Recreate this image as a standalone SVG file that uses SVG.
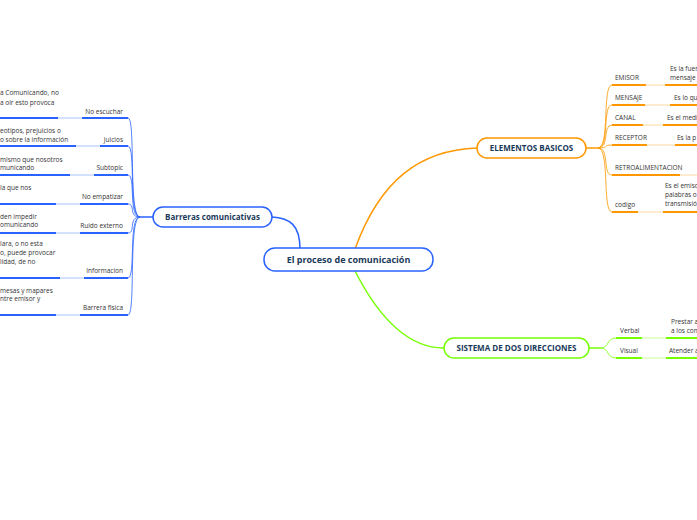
<svg xmlns="http://www.w3.org/2000/svg" width="697" height="520" viewBox="0 0 697 520">
<style>
text{font-family:"Open Sans","Noto Sans",sans-serif;font-size:6.5px;fill:#333}
.t{font-size:8px;font-weight:bold;fill:#1a3a5a}
.b{stroke:#2962ff;fill:none}
.o{stroke:#ff9800;fill:none}
.g{stroke:#76ff03;fill:none}
.lb{stroke:#a8c4ff;fill:none;stroke-width:1}
.lo{stroke:#ffd7a0;fill:none;stroke-width:1}
.lg{stroke:#c8ff9a;fill:none;stroke-width:1}
</style>
<rect width="697" height="520" fill="#fff"/>
<g id="connectors">
<path class="b" stroke-width="1.5" d="M300 249 C300 225 290 218 272 217"/>
<path class="o" stroke-width="1.5" d="M355 249 C380 180 420 150 477 148"/>
<path class="g" stroke-width="1.5" d="M355 271 C380 320 410 348 444 348"/>
<path class="b" stroke-width="1.5" d="M153 217 H140"/>
<g class="b" stroke-width="0.8">
<path d="M140 217 C128 217 136 118 128 118"/><path d="M140 217 C128 217 136 146 128 146"/><path d="M140 217 C128 217 136 175 128 175"/><path d="M140 217 C128 217 136 204 128 204"/><path d="M140 217 C128 217 136 233 128 233"/><path d="M140 217 C128 217 136 278 128 278"/><path d="M140 217 C128 217 136 315 128 315"/>
</g>
<g class="b" stroke-width="2">
<path d="M82 118H128M0 118H58"/><path d="M100 146H128M0 146H76"/><path d="M94 175H128M0 175H70"/><path d="M80 204H128M0 204H56"/><path d="M80 233H128M0 233H56"/><path d="M84 278H128M0 278H60"/><path d="M80 315H128M0 315H56"/>
</g>
<g class="lb"><path d="M58 118H82M76 146H100M70 175H94M56 204H80M56 233H80M60 278H84M56 315H80"/></g>
<path class="o" stroke-width="1.5" d="M586 148H598"/>
<g class="o" stroke-width="0.8">
<path d="M598 148 C610 148 602 85 612 85"/><path d="M598 148 C610 148 602 105 612 105"/><path d="M598 148 C610 148 602 125 612 125"/><path d="M598 148 C610 148 602 145 612 145"/><path d="M598 148 C610 148 602 175 612 175"/><path d="M598 148 C610 148 602 212 612 212"/>
</g>
<g class="o" stroke-width="2"><path d="M612 85H646M665 85H697M612 105H645M670 105H697M612 125H643M663 125H697M612 145H647M675 145H697M612 175H680M612 212H638M663 212H697"/></g>
<g class="lo"><path d="M646 85H665M645 105H670M643 125H663M647 145H675M680 175H697M638 212H663"/></g>
<path class="g" stroke-width="1.5" d="M589 348H600"/>
<g class="g" stroke-width="0.8"><path d="M600 348 C610 348 606 338 616 338"/><path d="M600 348 C610 348 606 358 616 358"/></g>
<g class="g" stroke-width="2"><path d="M616 338H642M666 338H697M616 358H642M666 358H697"/></g>
<g class="lg"><path d="M642 338H666M642 358H666"/></g>
</g>
<g id="center"><rect x="264" y="248" width="169" height="23" rx="11" fill="#fff" stroke="#2962ff" stroke-width="1.5"/><text class="t" x="348.5" y="263" text-anchor="middle" style="font-size:9px">El proceso de comunicación</text></g>
<g id="barreras"><rect x="153" y="207" width="119" height="20" rx="10" fill="#fff" stroke="#2962ff" stroke-width="1.5"/><text class="t" x="212.5" y="220" text-anchor="middle">Barreras comunicativas</text></g>
<g id="elementos"><rect x="477" y="138" width="109" height="20" rx="10" fill="#fff" stroke="#ff9800" stroke-width="1.5"/><text class="t" x="531.5" y="151" text-anchor="middle">ELEMENTOS BASICOS</text></g>
<g id="sistema"><rect x="444" y="338" width="145" height="20" rx="10" fill="#fff" stroke="#76ff03" stroke-width="1.5"/><text class="t" x="516.5" y="351" text-anchor="middle">SISTEMA DE DOS DIRECCIONES</text></g>
<g id="left-sub" text-anchor="end">
<text x="123" y="114">No escuchar</text><text x="123" y="142">Juicios</text><text x="123" y="170">Subtopic</text><text x="123" y="199">No empatizar</text><text x="123" y="228">Ruido externo</text><text x="123" y="273">Informacion</text><text x="123" y="310">Barrera fisica</text>
</g>
<g id="left-leaves">
<text x="0" y="95">a Comunicando, no</text><text x="0" y="105">a oir esto provoca</text>
<text x="0" y="133">eotipos, prejuicios o</text><text x="0" y="142">o sobre la información</text>
<text x="0" y="162">mismo que nosotros</text><text x="0" y="170">municando</text>
<text x="0" y="190">la que nos</text>
<text x="0" y="219">den impedir</text><text x="0" y="227">omunicando</text>
<text x="0" y="246">lara, o no esta</text><text x="0" y="255">o, puede provocar</text><text x="0" y="264">lidad, de no</text>
<text x="0" y="293">mesas y mapares</text><text x="0" y="301">ntre emisor y</text>
</g>
<g id="right-sub">
<text x="615" y="80">EMISOR</text><text x="615" y="100">MENSAJE</text><text x="615" y="120">CANAL</text><text x="615" y="140">RECEPTOR</text><text x="615" y="170">RETROALIMENTACION</text><text x="615" y="207">codigo</text>
<text x="620" y="333">Verbal</text><text x="620" y="353">Visual</text>
</g>
<g id="right-leaves">
<text x="670" y="71">Es la fuen</text><text x="670" y="80">mensaje</text>
<text x="674" y="100">Es lo que</text><text x="667" y="120">Es el medio</text><text x="677" y="140">Es la p</text>
<text x="665" y="188">Es el emiso</text><text x="665" y="197">palabras o</text><text x="665" y="206">transmisión</text>
<text x="671" y="324">Prestar a</text><text x="671" y="333">a los com</text><text x="669" y="353">Atender a</text>
</g>
</svg>
